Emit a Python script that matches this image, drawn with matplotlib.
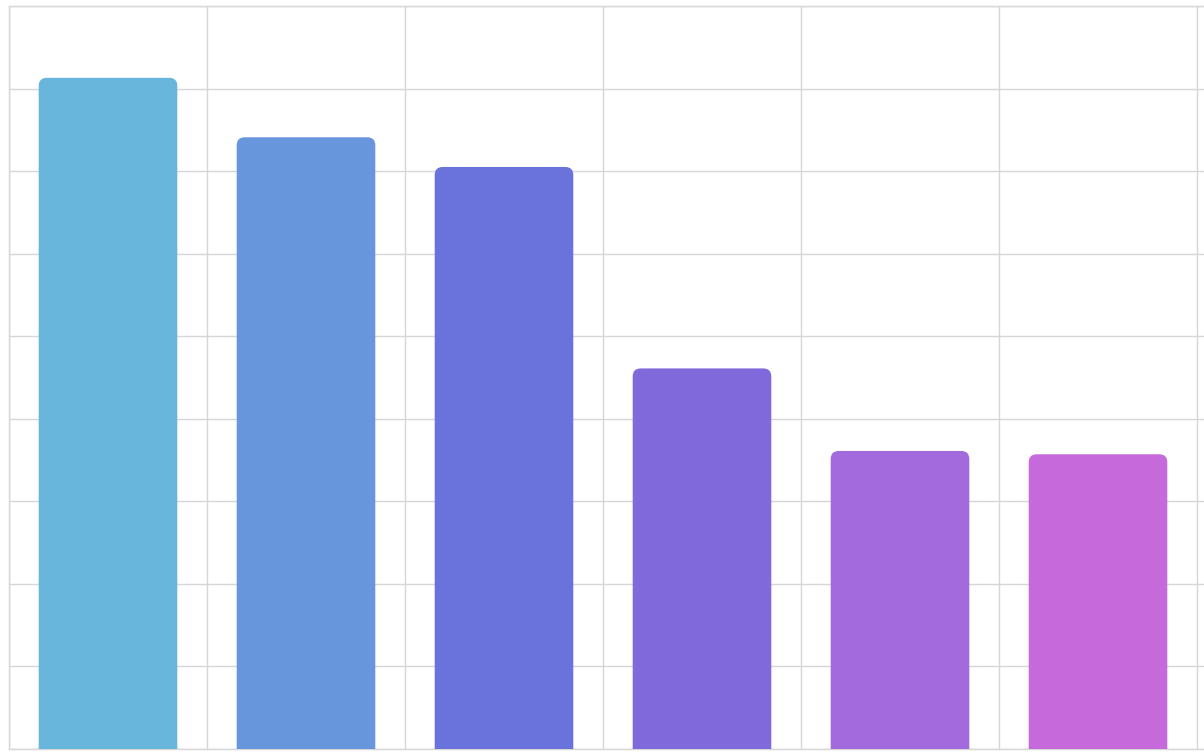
import numpy as np
import matplotlib.pyplot as plt
from matplotlib.patches import FancyBboxPatch

# values (axis 0..90, grid every 10)
categories = ["A", "B", "C", "D", "E", "F"]
values = [81.3, 74.1, 70.5, 46.1, 36.1, 35.7]
colors = ["#68b6dc", "#6896dc", "#6a73db", "#8069db", "#a36ade", "#c569db"]

W, H = 1204, 756
fig = plt.figure(figsize=(W / 100, H / 100), dpi=100)
# plot area runs off the right edge; the last category line sits at x~1197
ax = fig.add_axes([9 / W, 7 / H, (W - 9) / W, 743 / H])

ymax = 90
px_x = 1188 / len(categories)   # pixels per category
px_y = 743 / ymax
ax.set_xlim(-0.5, -0.5 + (W - 9) / px_x)
ax.set_ylim(0, ymax)

radius_px = 8
rx = radius_px / px_x

bw = 0.70
x = np.arange(len(categories))
for xi, v, c in zip(x, values, colors):
    # start below zero so only the top corners show rounded
    box = FancyBboxPatch((xi - bw / 2, -5), bw, v + 5,
                         boxstyle="round,pad=0,rounding_size=%f" % rx,
                         mutation_aspect=px_x / px_y,
                         facecolor=c, edgecolor="none", zorder=3)
    ax.add_patch(box)

ax.set_xticks(np.arange(-0.5, len(categories), 1.0))
ax.set_yticks(np.arange(0, ymax + 1, 10))
ax.grid(True, color="#d6d6d6", linewidth=1.0, zorder=0)
ax.tick_params(length=0, labelbottom=False, labelleft=False)
ax.spines["right"].set_visible(False)
for s in ax.spines.values():
    s.set_color("#d6d6d6")
    s.set_linewidth(1.0)

fig.savefig("out.png", dpi=100)
